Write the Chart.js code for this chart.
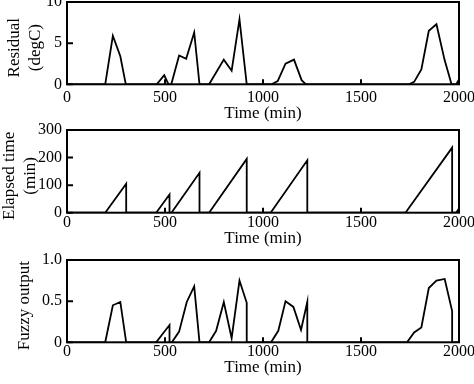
<!DOCTYPE html>
<html><head><meta charset="utf-8">
<script src="https://cdn.jsdelivr.net/npm/chart.js@4/dist/chart.umd.min.js"></script>
<style>
html,body{margin:0;padding:0;background:#fff;}
#wrap{position:relative;width:474px;height:384px;overflow:hidden;background:#fff;}
canvas{position:absolute;left:0;top:0;}
</style></head><body>
<div id="wrap">
<canvas id="c1" width="474" height="384"></canvas>
<canvas id="c2" width="474" height="384"></canvas>
<canvas id="c3" width="474" height="384"></canvas>
</div>
<script>
// ---- data ----
const xTicks = [0, 500, 1000, 1500, 2000];
const xTickLabels = ['0', '500', '1000', '1500', '2000'];
const xTitle = 'Time (min)';

const residualTime  = [0, 195, 234, 272, 300, 458, 496, 518, 532, 572, 608, 649, 676, 725, 800, 840, 880, 917, 1044, 1075, 1115, 1158, 1197, 1219, 1745, 1771, 1808, 1846, 1885, 1926, 1962, 1986, 2000];
const residualValue = [0, 0, 5.9, 3.4, 0, 0, 1.1, 0, 0, 3.5, 3.1, 6.3, 0, 0, 3.0, 1.65, 7.9, 0, 0, 0.4, 2.5, 3.0, 0.5, 0, 0, 0.3, 1.8, 6.5, 7.3, 3.0, 0, 0, 0.6];
const residualTicks = [0, 5, 10];
const residualTickLabels = ['0', '5', '10'];
const residualTitle = ['Residual', '(degC)'];

const elapsedTime  = [0, 195, 302, 302, 455, 523, 523, 533, 676, 676, 725, 917, 917, 1039, 1226, 1226, 1727, 1965, 1965, 1985, 2000];
const elapsedValue = [0, 0, 105, 0, 0, 66, 0, 0, 145, 0, 0, 195, 0, 0, 190, 0, 0, 236, 0, 0, 15];
const elapsedTicks = [0, 100, 200, 300];
const elapsedTickLabels = ['0', '100', '200', '300'];
const elapsedTitle = ['Elapsed time', '(min)'];

const fuzzyTime  = [0, 195, 234, 272, 302, 455, 523, 523, 535, 572, 611, 649, 676, 725, 761, 800, 840, 880, 917, 917, 1041, 1078, 1115, 1155, 1194, 1226, 1226, 1735, 1771, 1808, 1846, 1885, 1927, 1965, 1965, 2000];
const fuzzyValue = [0, 0, 0.45, 0.49, 0, 0, 0.21, 0, 0, 0.13, 0.49, 0.68, 0, 0, 0.14, 0.49, 0.05, 0.75, 0.48, 0, 0, 0.14, 0.5, 0.43, 0.15, 0.49, 0, 0, 0.12, 0.18, 0.66, 0.75, 0.77, 0.38, 0, 0];
const fuzzyTicks = [0, 0.5, 1.0];
const fuzzyTickLabels = ['0', '0.5', '1.0'];
const fuzzyTitle = 'Fuzzy output';

// ---- drawing ----
const FONT = "'Liberation Serif', 'Times New Roman', serif";
const W = 474, H = 384, XAXIS_H = 40, YAXIS_W = 67, YTITLE_SHIFT = 4.5;

const framePlugin = {
  id: 'frame',
  beforeDraw(chart) {
    const y = chart.scales.y;
    if (y && !y._shiftPatched) {
      const orig = y.drawTitle;
      y.drawTitle = function () {
        this.ctx.save();
        this.ctx.translate(0, YTITLE_SHIFT);
        orig.call(this);
        this.ctx.restore();
      };
      y._shiftPatched = true;
    }
  },
  afterDatasetsDraw(chart) {
    const {ctx, chartArea: a, scales} = chart;
    ctx.save();
    ctx.strokeStyle = '#000';
    ctx.lineWidth = 2;
    ctx.beginPath();
    scales.x.ticks.forEach(t => {
      const px = scales.x.getPixelForValue(t.value);
      ctx.moveTo(px, a.bottom); ctx.lineTo(px, a.bottom - 5);
    });
    scales.y.ticks.forEach(t => {
      const py = scales.y.getPixelForValue(t.value);
      ctx.moveTo(a.left, py); ctx.lineTo(a.left + 6, py);
    });
    ctx.stroke();
    ctx.strokeRect(a.left, a.top, a.right - a.left, a.bottom - a.top);
    ctx.restore();
  }
};

function makeChart(id, times, values, yTicks, yLabels, yTitle, g) {
  const pts = times.map((t, i) => ({x: t, y: values[i]}));
  return new Chart(document.getElementById(id), {
    type: 'line',
    data: {datasets: [{data: pts, borderColor: '#000', borderWidth: 1.8, pointRadius: 0, tension: 0, fill: false}]},
    options: {
      responsive: false, animation: false, events: [],
      layout: {padding: {top: g.top, bottom: H - g.bottom - XAXIS_H, left: 0, right: W - 459}},
      plugins: {legend: {display: false}, tooltip: {enabled: false}},
      scales: {
        x: {
          type: 'linear', min: 0, max: 2000,
          grid: {display: false, drawTicks: false}, border: {display: false},
          afterBuildTicks: s => { s.ticks = xTicks.map(v => ({value: v})); },
          afterFit: s => { s.height = XAXIS_H; s.paddingLeft = 0; s.paddingRight = 0; },
          ticks: {color: '#000', padding: g.xtp, maxRotation: 0, autoSkip: false,
                  callback: (v, i) => xTickLabels[i],
                  font: {family: FONT, size: 16, lineHeight: 1.2}},
          title: {display: true, text: xTitle, color: '#000', padding: {top: 0, bottom: g.xtb},
                  font: {family: FONT, size: 17, lineHeight: 1.2}}
        },
        y: {
          type: 'linear', min: yTicks[0], max: yTicks[yTicks.length - 1],
          grid: {display: false, drawTicks: false}, border: {display: false},
          afterBuildTicks: s => { s.ticks = yTicks.map(v => ({value: v})); },
          afterFit: s => { s.width = YAXIS_W; s.paddingTop = 0; s.paddingBottom = 0; },
          ticks: {color: '#000', padding: 5, autoSkip: false,
                  callback: (v, i) => yLabels[i],
                  font: {family: FONT, size: 16, lineHeight: 1.2}},
          title: {display: true, text: yTitle, color: '#000', padding: {top: g.ytp, bottom: 0},
                  font: {family: FONT, size: 17, lineHeight: 1.25}}
        }
      }
    },
    plugins: [framePlugin]
  });
}

makeChart('c1', residualTime, residualValue, residualTicks, residualTickLabels, residualTitle,
  {top: 2, bottom: 84.3, xtp: 4, xtb: 0.6, ytp: 3.5});
makeChart('c2', elapsedTime, elapsedValue, elapsedTicks, elapsedTickLabels, elapsedTitle,
  {top: 130, bottom: 212.7, xtp: 0, xtb: 4, ytp: -1.5});
makeChart('c3', fuzzyTime, fuzzyValue, fuzzyTicks, fuzzyTickLabels, fuzzyTitle,
  {top: 260, bottom: 342.3, xtp: 0, xtb: 4.6, ytp: 13.5});
</script>
</body></html>
